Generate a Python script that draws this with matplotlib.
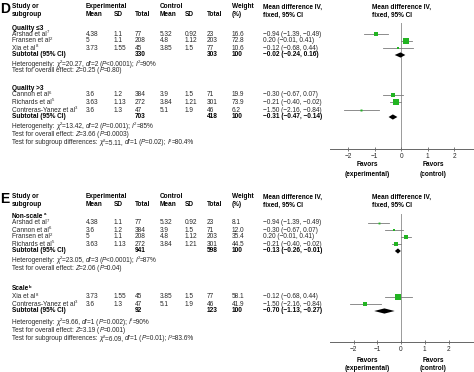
import re
import matplotlib.pyplot as plt
import numpy as np

plt.rcParams['font.family'] = ['Liberation Sans', 'DejaVu Sans']

# study level data (same six studies in both panels); ^x^ = superscript, _x_ = italic
studies = ["Arshad et al^7^", "Fransen et al^2^", "Xia et al^8^",
           "Cannon et al^6^", "Richards et al^5^", "Contreras-Yanez et al^3^"]
exp_mean = ["4.38", "5", "3.73", "3.6", "3.63", "3.6"]
exp_sd = ["1.1", "1.1", "1.55", "1.2", "1.13", "1.3"]
exp_n = [77, 208, 45, 384, 272, 47]
ctl_mean = ["5.32", "4.8", "3.85", "3.9", "3.84", "5.1"]
ctl_sd = ["0.92", "1.12", "1.5", "1.5", "1.21", "1.9"]
ctl_n = [23, 203, 77, 71, 301, 46]
md = [-0.94, 0.20, -0.12, -0.30, -0.21, -1.50]
ci_lo = [-1.39, -0.01, -0.68, -0.67, -0.40, -2.16]
ci_hi = [-0.49, 0.41, 0.44, 0.07, -0.02, -0.84]

# panel D
d_groups = ["Quality ≤3", "Quality >3"]
d_members = [[0, 1, 2], [3, 4, 5]]
d_weights = [[16.6, 72.8, 10.6], [19.9, 73.9, 6.2]]
d_sub_md = [-0.02, -0.31]
d_sub_lo = [-0.24, -0.47]
d_sub_hi = [0.16, -0.14]
d_het = ["Heterogeneity: _χ_^2^=20.27, _df_=2 (_P_<0.0001); _I_^2^=90%",
         "Heterogeneity: _χ_^2^=13.42, _df_=2 (_P_=0.001); _I_^2^=85%"]
d_eff = ["Test for overall effect: _Z_=0.25 (_P_=0.80)",
         "Test for overall effect: _Z_=3.66 (_P_=0.0003)"]
d_subtest = "Test for subgroup differences: _χ_^2^=5.11, _df_=1 (_P_=0.02); _I_^2^=80.4%"

# panel E
e_groups = ["Non-scale^a^", "Scale^b^"]
e_members = [[0, 3, 1, 4], [2, 5]]
e_weights = [[8.1, 12.0, 35.4, 44.5], [58.1, 41.9]]
e_sub_md = [-0.13, -0.70]
e_sub_lo = [-0.26, -1.13]
e_sub_hi = [-0.01, -0.27]
e_het = ["Heterogeneity: _χ_^2^=23.05, _df_=3 (_P_<0.0001); _I_^2^=87%",
         "Heterogeneity: _χ_^2^=9.66, _df_=1 (_P_=0.002); _I_^2^=90%"]
e_eff = ["Test for overall effect: _Z_=2.06 (_P_=0.04)",
         "Test for overall effect: _Z_=3.19 (_P_=0.001)"]
e_subtest = "Test for subgroup differences: _χ_^2^=6.09, _df_=1 (_P_=0.01); _I_^2^=83.6%"

tick_vals = [-2, -1, 0, 1, 2]

FS = 4.7
TXT = '#262626'
GREEN = '#22b422'
W, H = 474, 372

fig = plt.figure(figsize=(4.74, 3.72), dpi=100)
bg = fig.add_axes([0, 0, 1, 1])
bg.set_xlim(0, W)
bg.set_ylim(H, 0)
bg.axis('off')
renderer = fig.canvas.get_renderer()

COLS = dict(study=12, em=86, esd=114, en=135, cm=160, csd=185, cn=207, w=232, ci=263, hdr=372)


def m(v):
    return f"{v:.2f}".replace('-', '\u2212')


def width(s, size, bold, style):
    a = bg.text(0, 0, "|" + s + "|", fontsize=size, fontweight=bold, style=style)
    b = bg.text(0, 0, "||", fontsize=size, fontweight=bold, style=style)
    w = a.get_window_extent(renderer).width - b.get_window_extent(renderer).width
    a.remove()
    b.remove()
    return w


def t(x, y, s, bold=False, ha='left'):
    fw = 'bold' if bold else 'normal'
    col = 'black' if bold else TXT
    if ha == 'center':
        bg.text(x, y, s, fontsize=FS, color=col, fontweight=fw, va='center', ha='center')
        return
    cx = x
    for part in re.split(r'(\^[^^]+\^|_[^_]+_)', s):
        if not part:
            continue
        size, dy, style = FS, 0, 'normal'
        if part.startswith('^'):
            part, size, dy = part[1:-1], FS * 0.65, -1.8
        elif part.startswith('_'):
            part, style = part[1:-1], 'italic'
        bg.text(cx, y + dy, part, fontsize=size, color=col, fontweight=fw, style=style,
                va='center', ha='left')
        cx += width(part, size, fw, style)


def panel(letter, y0, groups, members, weights, sub_md, sub_lo, sub_hi, het, eff, subtest,
          layout, xlim, zero_top, axis_y, sq_scale):
    bg.text(0, y0 + 2, letter, fontsize=10, fontweight='bold', va='center', ha='left')
    y1, y2 = y0, y0 + 8
    t(COLS['study'], y1, "Study or", True)
    t(COLS['study'], y2, "subgroup", True)
    t(COLS['em'], y1, "Experimental", True)
    t(COLS['cm'], y1, "Control", True)
    for c, s in [('em', 'Mean'), ('esd', 'SD'), ('en', 'Total'),
                 ('cm', 'Mean'), ('csd', 'SD'), ('cn', 'Total')]:
        t(COLS[c], y2, s, True)
    t(COLS['w'], y1, "Weight", True)
    t(COLS['w'], y2, "(%)", True)
    t(COLS['ci'], y1, "Mean difference IV,", True)
    t(COLS['ci'], y2, "fixed, 95% CI", True)
    t(COLS['hdr'], y1, "Mean difference IV,", True)
    t(COLS['hdr'], y2, "fixed, 95% CI", True)

    # forest axes, y measured in picture rows
    x_left, x_right = 330, 474
    ax = fig.add_axes([x_left / W, 1 - axis_y / H, (x_right - x_left) / W, (axis_y - zero_top) / H])
    ax.set_xlim(*xlim)
    ax.set_ylim(axis_y, zero_top)
    ax.patch.set_alpha(0)
    for s in ['top', 'right', 'left']:
        ax.spines[s].set_visible(False)
    ax.spines['bottom'].set_color('#666666')
    ax.spines['bottom'].set_linewidth(0.7)
    ax.set_yticks([])
    ax.set_xticks(tick_vals)
    ax.set_xticklabels([str(v).replace('-', '\u2212') for v in tick_vals])
    ax.tick_params(axis='x', direction='inout', length=3, width=0.6, color='#666666',
                   labelsize=FS, labelcolor=TXT, pad=1.2)
    ax.axvline(0, color='#9a9a9a', lw=0.7, zorder=0)

    for g in range(len(groups)):
        rows = layout[g]
        t(COLS['study'], rows['title'], groups[g], True)
        for k, i in enumerate(members[g]):
            y = rows['studies'][k]
            t(COLS['study'], y, studies[i])
            t(COLS['em'], y, exp_mean[i])
            t(COLS['esd'], y, exp_sd[i])
            t(COLS['en'], y, str(exp_n[i]))
            t(COLS['cm'], y, ctl_mean[i])
            t(COLS['csd'], y, ctl_sd[i])
            t(COLS['cn'], y, str(ctl_n[i]))
            t(COLS['w'], y, f"{weights[g][k]:.1f}")
            t(COLS['ci'], y, f"{m(md[i])} ({m(ci_lo[i])}, {m(ci_hi[i])})")
            ax.plot([ci_lo[i], ci_hi[i]], [y, y], color='#7a7a7a', lw=0.6, zorder=2)
            side = sq_scale * np.sqrt(weights[g][k]) * 0.72
            ax.plot(md[i], y, marker='s', ms=side, color=GREEN, mec=GREEN, mew=0, zorder=3)
        ys = rows['sub']
        t(COLS['study'], ys, "Subtotal (95% CI)", True)
        t(COLS['en'], ys, str(sum(exp_n[i] for i in members[g])), True)
        t(COLS['cn'], ys, str(sum(ctl_n[i] for i in members[g])), True)
        t(COLS['w'], ys, "100", True)
        t(COLS['ci'], ys, f"{m(sub_md[g])} ({m(sub_lo[g])}, {m(sub_hi[g])})", True)
        ax.fill([sub_lo[g], sub_md[g], sub_hi[g], sub_md[g]], [ys, ys - 2.6, ys, ys + 2.6],
                color='black', lw=0, zorder=3)
        t(COLS['study'], rows['het'], het[g])
        t(COLS['study'], rows['eff'], eff[g])
    t(COLS['study'], layout['subtest'], subtest)

    fy = layout['favors']
    t(367, fy, "Favors", True, ha='center')
    t(367, fy + 9, "(experimental)", True, ha='center')
    t(433, fy, "Favors", True, ha='center')
    t(433, fy + 9, "(control)", True, ha='center')


d_layout = {0: dict(title=28, studies=[34, 41, 48], sub=55, het=64, eff=71),
            1: dict(title=88, studies=[95, 102, 110], sub=117, het=126, eff=134),
            'subtest': 143, 'favors': 165}
e_layout = {0: dict(title=216, studies=[223, 230, 237, 244], sub=251, het=260, eff=268),
            1: dict(title=289, studies=[297, 304], sub=311, het=322, eff=330),
            'subtest': 339, 'favors': 360}

panel("D", 7, d_groups, d_members, d_weights, d_sub_md, d_sub_lo, d_sub_hi, d_het, d_eff,
      d_subtest, d_layout, (-2.68, 2.75), 23, 149, 0.8)
panel("E", 197, e_groups, e_members, e_weights, e_sub_md, e_sub_lo, e_sub_hi, e_het, e_eff,
      e_subtest, e_layout, (-2.99, 3.07), 214, 342, 0.66)

fig.savefig("out.png", dpi=100)
